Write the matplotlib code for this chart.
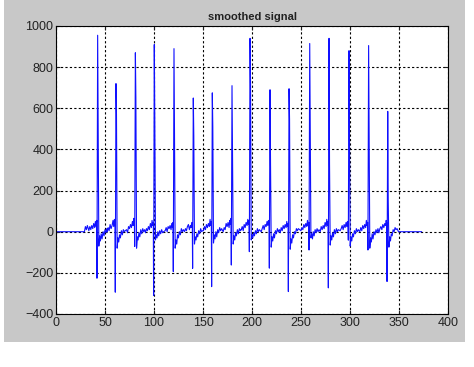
import matplotlib
matplotlib.use("Agg")
import matplotlib.pyplot as plt
from matplotlib.patches import Rectangle

plt.rcParams['font.family'] = ['Liberation Sans', 'DejaVu Sans']

# R-peak positions and heights
beat_x = [42.5, 61.2, 81.0, 100.3, 120.4, 140.1, 159.5, 179.6,
          198.0, 218.4, 237.8, 258.9, 278.6, 299.0, 319.0, 338.5]
r_peak = [955, 720, 870, 910, 890, 650, 675, 710,
          940, 690, 695, 915, 940, 880, 905, 585]
r_second = [530, 570, 650, 555, 475, 466, 510, 394,
            717, 331, 548, 482, 331, 410, 466, 152]
q_trough = [-226, -294, -72, -310, -194, -178, -267, -162,
            -97, -177, -291, -89, -273, -41, -89, -242]

# small wiggles before / after each beat
wig_pre = [
    [5, 25, 10, 30, 15, 40, 20, 50, 25, 55],
    [0, 20, 5, 35, 15, 30, 55, 25, 60, 30],
    [10, -5, 25, 15, 35, 20, 50, 30, 65, 40],
    [-5, 15, 5, 25, 10, 40, 20, 55, 30, 45],
    [5, 20, 0, 25, 15, 30, 10, 40, 20, 45],
    [0, 15, 5, 25, 35, 10, 30, 20, 45, 25],
    [5, 25, 10, 35, 20, 40, 25, 60, 30, 50],
    [0, 20, 10, 40, 25, 45, 20, 55, 35, 65],
    [10, 25, 5, 35, 20, 45, 30, 60, 35, 55],
    [0, 15, 30, 10, 35, 25, 50, 30, 55, 35],
    [-5, 20, 5, 30, 15, 35, 20, 50, 25, 40],
    [5, 20, 10, 35, 20, 40, 25, 55, 30, 45],
    [0, 25, 10, 30, 15, 45, 25, 60, 30, 50],
    [5, 15, 30, 10, 35, 20, 45, 25, 50, 35],
    [0, 20, 5, 30, 15, 35, 20, 55, 30, 45],
    [-5, 15, 25, 10, 35, 20, 40, 30, 55, 40],
]
wig_post = [
    [-70, -20, -45, -10, -35, 0, -20, 10, -5, 15],
    [-80, -30, -50, -15, -30, 5, -15, 10, 0, 5],
    [-80, -25, -40, -5, -25, 10, -10, 15, 0, 10],
    [-40, -15, -30, 0, -20, 5, -10, 10, -5, 0],
    [-80, -40, -60, -15, -30, 0, -15, 15, 0, 10],
    [-60, -25, -40, -10, -25, 5, -10, 15, 0, 5],
    [-55, -15, -35, 0, -25, 10, -5, 20, 5, 15],
    [-60, -20, -40, -5, -20, 10, -10, 15, 5, 10],
    [-40, -15, -30, -5, -20, 5, -10, 15, 0, 10],
    [-75, -25, -45, -10, -30, 5, -10, 15, 0, 10],
    [-85, -35, -55, -15, -30, 0, -10, 15, 5, 15],
    [-30, -10, -35, 0, -20, 10, -5, 15, 0, 10],
    [-65, -20, -40, -5, -25, 10, -10, 15, 0, 10],
    [-70, -25, -45, -10, -25, 5, -10, 15, 0, 10],
    [-80, -30, -50, -10, -35, 0, -15, 10, -5, 15],
    [-75, -25, -45, -10, -20, 10, 0, 20, 10, 15],
]
pre_off = [-9, -8, -7, -6, -5, -4, -3, -2.3, -1.6, -1]
post_off = [1.2, 2, 2.8, 3.6, 4.5, 5.5, 6.5, 7.5, 8.5, 9.5]

lead_x, lead_y = [0, 29, 30, 31, 32], [0, 0, 25, 10, 30]
tail_x, tail_y = [349.5, 373], [0, 0]

xs, ys = list(lead_x), list(lead_y)
for i, r in enumerate(beat_x):
    xs += [r + o for o in pre_off]
    ys += wig_pre[i]
    xs += [r - 0.7, r, r + 0.5]
    ys += [q_trough[i], r_peak[i], r_second[i]]
    xs += [r + o for o in post_off]
    ys += wig_post[i]
xs += tail_x
ys += tail_y

fig = plt.figure(figsize=(4.74, 3.67), dpi=100, facecolor='white')
bg = Rectangle((4 / 474, 1 - 342 / 367), 461 / 474, 342 / 367,
               transform=fig.transFigure, facecolor='#c8c8c8',
               edgecolor='none', zorder=-10)
fig.add_artist(bg)
ax = fig.add_axes([56 / 474, 1 - 314 / 367, 392 / 474, 288 / 367])
ax.set_zorder(1)
ax.set_facecolor('white')
ax.plot(xs, ys, color='#1010ff', lw=0.8)

ax.set_xlim(0, 400)
ax.set_ylim(-400, 1000)
ax.set_xticks(range(0, 401, 50))
ax.set_yticks(range(-400, 1001, 200))
ax.grid(True, color='black', linestyle=(0, (2, 2)), lw=0.8)
ax.tick_params(direction='in', top=True, right=True, length=3, labelsize=9,
               colors='#222222', pad=2)
for s in ax.spines.values():
    s.set_linewidth(0.8)
ax.set_title('smoothed signal', fontsize=8, fontweight='bold', pad=4,
             color='#222222')

fig.savefig('out.png', dpi=100, facecolor=fig.get_facecolor())
